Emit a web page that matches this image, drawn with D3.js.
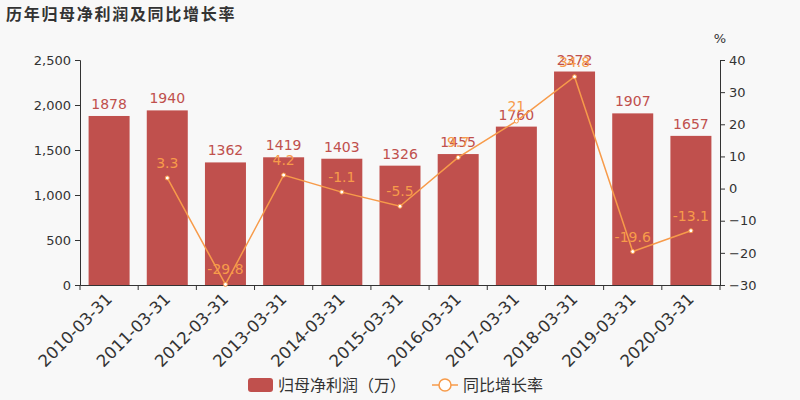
<!DOCTYPE html>
<html><head><meta charset="utf-8">
<script src="https://cdn.jsdelivr.net/npm/d3@7"></script>
<style>body{margin:0;background:#f8f8f8;}svg{display:block;font-family:"DejaVu Sans","Noto Sans CJK SC",sans-serif;}</style>
</head><body><svg id="c" width="800" height="400"></svg>
<script>
const categories = ["2010-03-31","2011-03-31","2012-03-31","2013-03-31","2014-03-31","2015-03-31","2016-03-31","2017-03-31","2018-03-31","2019-03-31","2020-03-31"];
const profit = [1878,1940,1362,1419,1403,1326,1455,1760,2372,1907,1657];
const growth = [null,3.3,-29.8,4.2,-1.1,-5.5,9.7,21,34.8,-19.6,-13.1];
const leftTicks = [0,500,1000,1500,2000,2500];
const rightTicks = [-30,-20,-10,0,10,20,30,40];
const title = "历年归母净利润及同比增长率";
const seriesNames = ["归母净利润（万）","同比增长率"];

const svg = d3.select("#c");
const L=80,R=720,T=60,B=285;
const barColor="#c0504d", lineColor="#f79b4a", textColor="#333";
svg.append("rect").attr("width",800).attr("height",400).attr("fill","#f8f8f8");
svg.append("text").attr("x",6).attr("y",20).attr("font-size",16).attr("font-weight","bold").attr("fill",textColor).attr("letter-spacing",1.7).text(title);

const xb = d3.scaleBand().domain(categories).range([L,R]);
const y = d3.scaleLinear().domain([0,2500]).range([B,T]);
const y2 = d3.scaleLinear().domain([-30,40]).range([B,T]);

// bars
svg.append("g").selectAll("rect").data(categories).join("rect")
 .attr("x",d=>xb(d)+xb.bandwidth()/2-20.5).attr("width",41)
 .attr("y",(d,i)=>y(profit[i])).attr("height",(d,i)=>B-y(profit[i]))
 .attr("fill",barColor);
svg.append("g").selectAll("text").data(categories).join("text")
 .attr("x",d=>xb(d)+xb.bandwidth()/2).attr("y",(d,i)=>y(profit[i])-7)
 .attr("text-anchor","middle").attr("font-size",14).attr("fill",barColor)
 .text((d,i)=>profit[i]);

// axes
const ya = svg.append("g").attr("transform",`translate(${L},0)`).call(d3.axisLeft(y).tickValues(leftTicks).tickFormat(d3.format(",")).tickSize(5).tickPadding(4));
const y2a = svg.append("g").attr("transform",`translate(${R},0)`).call(d3.axisRight(y2).tickValues(rightTicks).tickSize(5).tickPadding(4));
const xa = svg.append("g").attr("transform",`translate(0,${B})`).call(d3.axisBottom(xb).tickSize(0).tickPadding(8));
[ya,y2a,xa].forEach(g=>{g.select(".domain").attr("stroke",textColor);g.selectAll(".tick line").attr("stroke",textColor);g.selectAll("text").attr("fill",textColor).attr("font-family","DejaVu Sans");});
ya.selectAll("text").attr("font-size",13);
y2a.selectAll("text").attr("font-size",13);
xa.selectAll(".tick text").attr("font-size",16.5).attr("text-anchor","end")
 .attr("x",0).attr("y",0).attr("dy","0.35em")
 .attr("transform","translate(0,11) rotate(-45)");
// band boundary ticks on x axis
svg.append("g").selectAll("line").data(d3.range(categories.length+1)).join("line")
 .attr("x1",i=>L+i*xb.step()).attr("x2",i=>L+i*xb.step()).attr("y1",B).attr("y2",B+5).attr("stroke",textColor);
svg.append("text").attr("x",720).attr("y",43).attr("text-anchor","middle").attr("font-size",13).attr("fill",textColor).text("%");

// line
const pts = categories.map((c,i)=>({c,v:growth[i]})).filter(d=>d.v!==null);
svg.append("path").datum(pts).attr("fill","none").attr("stroke",lineColor).attr("stroke-width",1.5)
 .attr("d",d3.line().x(d=>xb(d.c)+xb.bandwidth()/2).y(d=>y2(d.v)));
svg.append("g").selectAll("circle").data(pts).join("circle")
 .attr("cx",d=>xb(d.c)+xb.bandwidth()/2).attr("cy",d=>y2(d.v)).attr("r",2)
 .attr("fill","#fff").attr("stroke",lineColor).attr("stroke-width",1);
svg.append("g").selectAll("text").data(pts).join("text")
 .attr("x",d=>xb(d.c)+xb.bandwidth()/2).attr("y",d=>y2(d.v)-10)
 .attr("text-anchor","middle").attr("font-size",14).attr("fill",lineColor)
 .text(d=>d.v);

// legend
const lg = svg.append("g");
lg.append("rect").attr("x",248).attr("y",378).attr("width",25).attr("height",14).attr("rx",3).attr("fill",barColor);
lg.append("text").attr("x",278).attr("y",391).attr("font-size",16).attr("fill",textColor).text(seriesNames[0]);
lg.append("line").attr("x1",432).attr("x2",458).attr("y1",385).attr("y2",385).attr("stroke",lineColor).attr("stroke-width",1.5);
lg.append("circle").attr("cx",445).attr("cy",385).attr("r",6).attr("fill","#fff").attr("stroke",lineColor).attr("stroke-width",1.5);
lg.append("text").attr("x",463).attr("y",391).attr("font-size",16).attr("fill",textColor).text(seriesNames[1]);
</script></body></html>
